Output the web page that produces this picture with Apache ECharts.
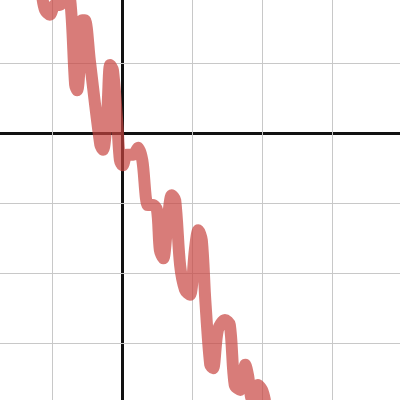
<!DOCTYPE html>
<html><head><meta charset="utf-8">
<script src="https://cdn.jsdelivr.net/npm/echarts@6/dist/echarts.min.js"></script>
<style>html,body{margin:0;padding:0;background:#fff}#c{width:400px;height:400px}</style>
</head><body><div id="c"></div>
<script>
var xs=[-1.14,-1.10,-1.03,-0.96,-0.89,-0.81,-0.74,-0.67,-0.64,-0.60,-0.57,-0.53,-0.46,-0.31,-0.27,-0.21,-0.17,-0.13,-0.07,-0.03,0.01,0.07,0.16,0.23,0.29,0.37,0.44,0.50,0.54,0.59,0.64,0.71,0.76,0.83,0.90,0.97,1.04,1.09,1.14,1.19,1.26,1.30,1.37,1.47,1.54,1.61,1.69,1.76,1.80,1.86,1.94,2.00,2.04];
var ys=[1.95,1.76,1.69,1.83,1.83,1.95,1.90,0.69,0.61,1.04,1.61,1.61,1.04,-0.17,-0.24,0.33,0.97,0.90,0.19,-0.39,-0.46,-0.31,-0.31,-0.21,-0.39,-1.03,-1.03,-1.10,-1.67,-1.79,-1.39,-0.89,-0.96,-1.89,-2.24,-2.31,-1.67,-1.39,-1.53,-2.39,-3.31,-3.36,-2.81,-2.67,-2.74,-3.60,-3.67,-3.31,-3.46,-3.81,-3.60,-3.67,-3.81];
var gridX=[-1,1,2,3];
var gridY=[-3,-2,-1,1];
var data=xs.map(function(x,i){return [x,ys[i]];});
var gl={color:'#c8c8c8',width:1,type:'solid'};
var ch=echarts.init(document.getElementById('c'));
ch.setOption({
 animation:false,
 grid:{left:0,right:0,top:0,bottom:0},
 xAxis:{type:'value',min:-1.743,max:3.971,axisLabel:{show:false},axisTick:{show:false},splitLine:{show:false},
  axisLine:{onZero:true,lineStyle:{color:'#111',width:3}}},
 yAxis:{type:'value',min:-3.814,max:1.9,axisLabel:{show:false},axisTick:{show:false},splitLine:{show:false},
  axisLine:{onZero:true,lineStyle:{color:'#111',width:3}}},
 series:[{type:'line',data:data,showSymbol:false,smooth:0.3,z:5,
  lineStyle:{color:'rgba(199,68,64,0.7)',width:12,cap:'round',join:'round'},
  markLine:{silent:true,symbol:'none',label:{show:false},lineStyle:gl,z:1,
   data:gridX.map(function(v){return {xAxis:v};}).concat(gridY.map(function(v){return {yAxis:v};}))}}]
});
</script></body></html>
